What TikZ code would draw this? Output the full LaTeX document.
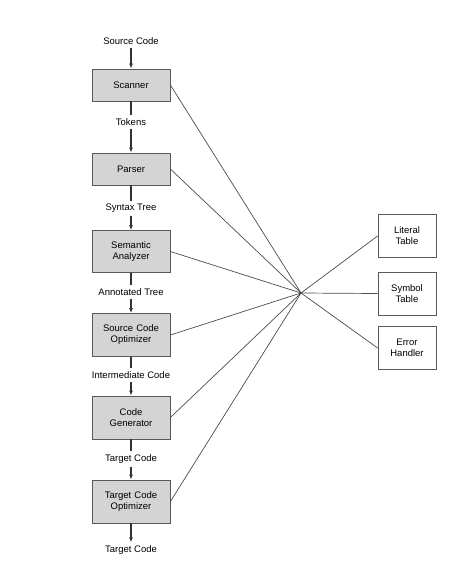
\documentclass[tikz,border=0pt]{standalone}
\usepackage{fontspec}
\setmainfont{Liberation Sans}
\usetikzlibrary{arrows.meta}
\begin{document}
\begin{tikzpicture}[x=1pt,y=1pt,
  font=\fontsize{9.5}{11}\selectfont,
  phase/.style={draw=black!65, line width=0.8pt, fill=black!17, minimum width=78pt, text width=70pt, align=center, inner sep=2pt},
  table/.style={draw=black!65, line width=0.8pt, fill=white, minimum width=58pt, minimum height=43pt, text width=50pt, align=center, inner sep=2pt},
  lbl/.style={inner sep=3pt},
  flow/.style={draw=black!80, line width=1.4pt},
  flowa/.style={flow, -{Latex[length=5pt,width=4pt]}},
  link/.style={draw=black!70, line width=0.7pt}]
\useasboundingbox (0,0) rectangle (474,-563);
% main phases
\node[phase, minimum height=32pt] (scan) at (131,-85) {Scanner};
\node[phase, minimum height=32pt] (pars) at (131,-169) {Parser};
\node[phase, minimum height=42pt] (sem) at (131,-251.5) {Semantic\\Analyzer};
\node[phase, minimum height=43pt] (sco) at (131,-335) {Source Code\\Optimizer};
\node[phase, minimum height=43pt] (cg) at (131,-417.5) {Code\\Generator};
\node[phase, minimum height=43pt] (tco) at (131,-501.5) {Target Code\\Optimizer};
% labels
\node[lbl] (l0) at (131,-41) {Source Code};
\node[lbl] (l1) at (131,-122) {Tokens};
\node[lbl] (l2) at (131,-208) {Syntax Tree};
\node[lbl] (l3) at (131,-292) {Annotated Tree};
\node[lbl] (l4) at (131,-375) {Intermediate Code};
\node[lbl] (l5) at (131,-459) {Target Code};
\node[lbl] (l6) at (131,-550) {Target Code};
% flow arrows
\draw[flowa] (l0.south) -- (scan.north);
\draw[flow] (scan.south) -- (l1.north);
\draw[flowa] (l1.south) -- (pars.north);
\draw[flow] (pars.south) -- (l2.north);
\draw[flowa] (l2.south) -- (sem.north);
\draw[flow] (sem.south) -- (l3.north);
\draw[flowa] (l3.south) -- (sco.north);
\draw[flow] (sco.south) -- (l4.north);
\draw[flowa] (l4.south) -- (cg.north);
\draw[flow] (cg.south) -- (l5.north);
\draw[flowa] (l5.south) -- (tco.north);
\draw[flowa] (tco.south) -- (l6.north);
% tables
\node[table] (lit) at (407,-236) {Literal\\Table};
\node[table] (sym) at (407,-293.5) {Symbol\\Table};
\node[table] (err) at (407,-348) {Error\\Handler};
% hub
\coordinate (hub) at (301,-293);
\foreach \n in {scan,pars,sem,sco,cg,tco} \draw[link] (\n.east) -- (hub);
\foreach \n in {lit,sym,err} \draw[link] (hub) -- (\n.west);
\end{tikzpicture}
\end{document}
